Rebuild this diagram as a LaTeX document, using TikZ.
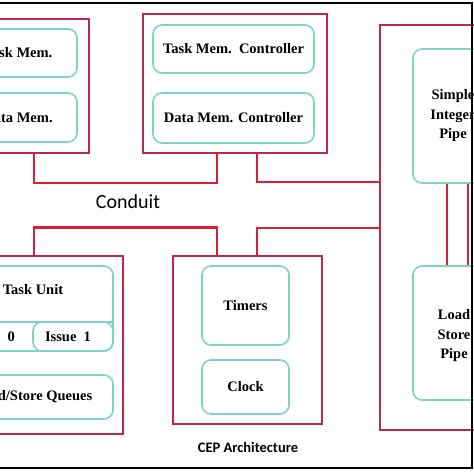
\documentclass[tikz,border=0pt]{standalone}
\usepackage{fontspec}
\setmainfont{Liberation Serif}
\newfontfamily\carl{Carlito}
\definecolor{boxred}{RGB}{190,40,75}
\definecolor{linered}{RGB}{222,30,55}
\definecolor{tealc}{RGB}{125,212,192}
\begin{document}
\begin{tikzpicture}[x=1pt,y=-1pt,
  redbox/.style={draw=boxred, line width=1.6pt, inner sep=0pt},
  tealbox/.style={draw=tealc, line width=1.6pt, rounded corners=9pt, inner sep=0pt,
    font=\fontsize{14.5}{19.5}\selectfont\bfseries, align=center},
  conn/.style={draw=linered, line width=2.6pt},
  lbl/.style={inner sep=0pt, font=\fontsize{14.5}{19.5}\selectfont\bfseries, align=center},
  frameline/.style={draw=black, line width=2.4pt}]
\useasboundingbox (0,0) rectangle (474,474);
\begin{scope}
\clip (0,0) rectangle (474,474);
% memories
\node[redbox, minimum width=140pt, minimum height=134pt] (mem) at (19,86) {};
\node[tealbox, minimum width=118pt, minimum height=48pt] (tmem) at (18,53) {Task Mem.};
\node[tealbox, minimum width=118pt, minimum height=49pt] (dmem) at (18,117.5) {Data Mem.};
% controllers
\node[redbox, minimum width=184pt, minimum height=139pt] (ctrl) at (235,83.5) {};
\node[tealbox, minimum width=161pt, minimum height=48pt] (tmc) at (233.5,49) {Task Mem.\ \ Controller};
\node[tealbox, minimum width=161pt, minimum height=50pt] (dmc) at (233.5,118) {Data Mem. Controller};
% pipes
\node[redbox, minimum width=152pt, minimum height=405pt] (big) at (456,227.5) {};
\node[tealbox, minimum width=86pt, minimum height=134pt] (sip) at (456,116) {};
\node[lbl] (sipt) at (453,116) {Simple\\Integer\\Pipe};
\node[tealbox, minimum width=86pt, minimum height=134pt] (lsp) at (456,333) {};
\node[lbl] (lspt) at (454,336) {Load\\Store\\Pipe};
\draw[conn] ([xshift=-9pt]sip.south) -- ([xshift=-9pt]lsp.north);
\draw[conn] ([xshift=12pt]sip.south) -- ([xshift=12pt]lsp.north);
% task unit
\node[redbox, minimum width=178pt, minimum height=178pt] (tu) at (34,345) {};
\node[tealbox, minimum width=160pt, minimum height=85pt] (tub) at (33,308.5) {};
\node[lbl] (tut) at (33,290) {Task Unit};
\draw[draw=tealc, line width=1.6pt] ([yshift=-13.5pt]tub.west) -- ([yshift=-13.5pt]tub.east);
\node[tealbox, minimum width=80pt, minimum height=29pt] (is1) at (73,336.5) {};
\node[lbl] (is1t) at (68,337) {Issue\ \ 1};
\node[lbl] (is0t) at (-8,337) {Issue\ \ 0};
\node[tealbox, minimum width=160pt, minimum height=44pt] (lsq) at (33,397) {Load/Store Queues};
% timers
\node[redbox, minimum width=149pt, minimum height=168pt] (tim) at (247.5,340) {};
\node[tealbox, minimum width=87pt, minimum height=79pt] (tmr) at (245.5,305.5) {Timers};
\node[tealbox, minimum width=87pt, minimum height=54pt] (clk) at (245.5,387) {Clock};
% connectors
\draw[conn] ([xshift=15pt]mem.south) -- ++(0,29) -| ([xshift=-18pt]ctrl.south);
\draw[conn] ([xshift=22pt]ctrl.south) |- ([yshift=45.5pt]big.west);
\draw[conn] (tu.north) -- ++(0,-28) -| ([xshift=-30.5pt]tim.north);
\draw[conn] ([xshift=9.5pt]tim.north) |- ([yshift=-0.5pt]big.west);
% labels
\node[inner sep=0pt, font=\carl\fontsize{20}{24}\selectfont] (cond) at (128,202) {Conduit};
\node[inner sep=0pt, font=\carl\bfseries\fontsize{14.5}{17}\selectfont] (cep) at (248,447) {CEP Architecture};
% frame
\draw[frameline] (0,3) -- (472,3) -- (472,468) -- (0,468);
\end{scope}
\end{tikzpicture}
\end{document}
